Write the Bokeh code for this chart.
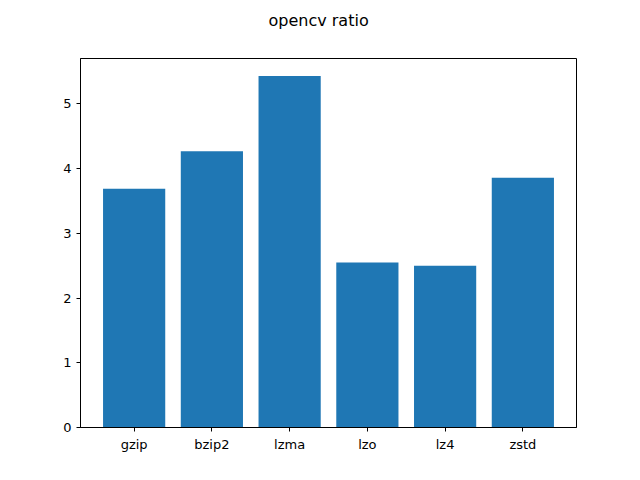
from bokeh.plotting import figure
from bokeh.models import FixedTicker, Range1d, Title
from bokeh.embed import file_html
from bokeh.resources import INLINE

title_text = "opencv ratio"
categories = ["gzip", "bzip2", "lzma", "lzo", "lz4", "zstd"]
ratios = [3.69, 4.27, 5.43, 2.55, 2.50, 3.86]

xs = list(range(len(categories)))
ymax = max(ratios) * 1.05
x0, x1 = -0.69, len(categories) - 1 + 0.69

p = figure(output_backend="svg", toolbar_location=None,
           frame_width=496, frame_height=369,
           min_border_left=80, min_border_right=64,
           min_border_top=58, min_border_bottom=53,
           x_range=Range1d(x0, x1),
           y_range=Range1d(0, ymax))

p.vbar(x=xs, top=ratios, width=0.8, color="#1f77b4", line_color=None)

# empty spacer panel between the frame and the title
p.add_layout(Title(text=" ", text_font_size="1px", standoff=17), "above")
p.add_layout(Title(text=title_text, align="left", offset=188, standoff=17,
                   text_font="DejaVu Sans", text_font_size="16px",
                   text_font_style="normal", text_color="black"), "above")

p.xgrid.visible = False
p.ygrid.visible = False
p.outline_line_color = "black"
p.outline_line_width = 1
p.background_fill_color = "white"
p.border_fill_color = "white"

p.xaxis.ticker = FixedTicker(ticks=xs)
p.xaxis.major_label_overrides = {i: c for i, c in enumerate(categories)}
p.yaxis.ticker = FixedTicker(ticks=[0, 1, 2, 3, 4, 5])

for ax in (p.xaxis[0], p.yaxis[0]):
    ax.major_label_text_font = "DejaVu Sans"
    ax.major_label_text_font_size = "13px"
    ax.major_label_text_color = "black"
    ax.minor_tick_line_color = None
    ax.major_tick_out = 4
    ax.major_tick_in = 0
    ax.major_tick_line_color = "black"
    ax.axis_line_color = "black"

open("out.html", "w").write(file_html(p, INLINE))
